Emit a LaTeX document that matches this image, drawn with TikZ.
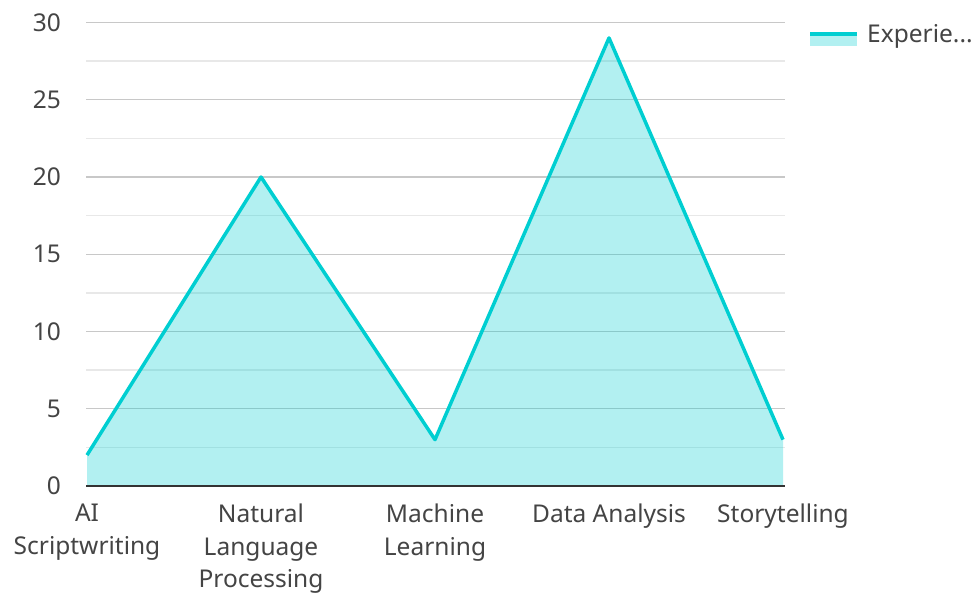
\documentclass[tikz,border=0pt]{standalone}
\usepackage{fontspec}
\setmainfont{Noto Sans}
\definecolor{series}{HTML}{00CED1}
\definecolor{txt}{HTML}{444444}
\definecolor{majorgrid}{HTML}{C8C8C8}
\definecolor{minorgrid}{HTML}{E8E8E8}
\definecolor{axisc}{HTML}{333333}
\begin{document}
\begin{tikzpicture}[x=1pt,y=-1pt,
  lab/.style={text=txt,font=\fontsize{24.5}{32.5}\selectfont,inner sep=0pt},
  ylab/.style={lab,anchor=east},
  xlab/.style={lab,anchor=north,align=center},
  majorline/.style={draw=majorgrid,line width=1.4pt},
  minorline/.style={draw=minorgrid,line width=1.4pt},
  serline/.style={draw=series,line width=3.5pt,line join=round},
  serfill/.style={fill=series,fill opacity=0.3}]
\useasboundingbox (0,0) rectangle (976,592);
% minor grid
\foreach \v in {2.5,7.5,...,27.5}{
  \draw[minorline] (86,{486-15.45*\v}) -- (785,{486-15.45*\v});
}
\foreach \v in {5,10,...,30}{
  \draw[majorline] (86,{486-15.45*\v}) -- (785,{486-15.45*\v});
}
\foreach \v in {0,5,...,30}{
  \node[ylab] (y\v) at (61,{486-15.45*\v}) {\v};
}
% data
\coordinate (p1) at (87,{486-15.45*2});
\coordinate (p2) at (261,{486-15.45*20});
\coordinate (p3) at (435,{486-15.45*3});
\coordinate (p4) at (609,{486-15.45*29});
\coordinate (p5) at (783,{486-15.45*3});
\coordinate (b1) at (87,486);
\coordinate (b5) at (783,486);
\fill[serfill] (b1) -- (p1) -- (p2) -- (p3) -- (p4) -- (p5) -- (b5) -- cycle;
\draw[serline] (p1) -- (p2) -- (p3) -- (p4) -- (p5);
\draw[draw=axisc,line width=2.2pt] (86,486) -- (785,486);
% x labels
\node[xlab] (x1) at (87,504) {AI\\Scriptwriting};
\node[xlab] (x2) at (261,504) {Natural\\Language\\Processing};
\node[xlab] (x3) at (435,504) {Machine\\Learning};
\node[xlab] (x4) at (609,504) {Data Analysis};
\node[xlab] (x5) at (783,504) {Storytelling};
% legend
\fill[serfill] (810,34) rectangle (857,46);
\draw[serline] (810,34) -- (857,34);
\node[lab,anchor=west] (leg) at (867,36) {Experie...};
\end{tikzpicture}
\end{document}
